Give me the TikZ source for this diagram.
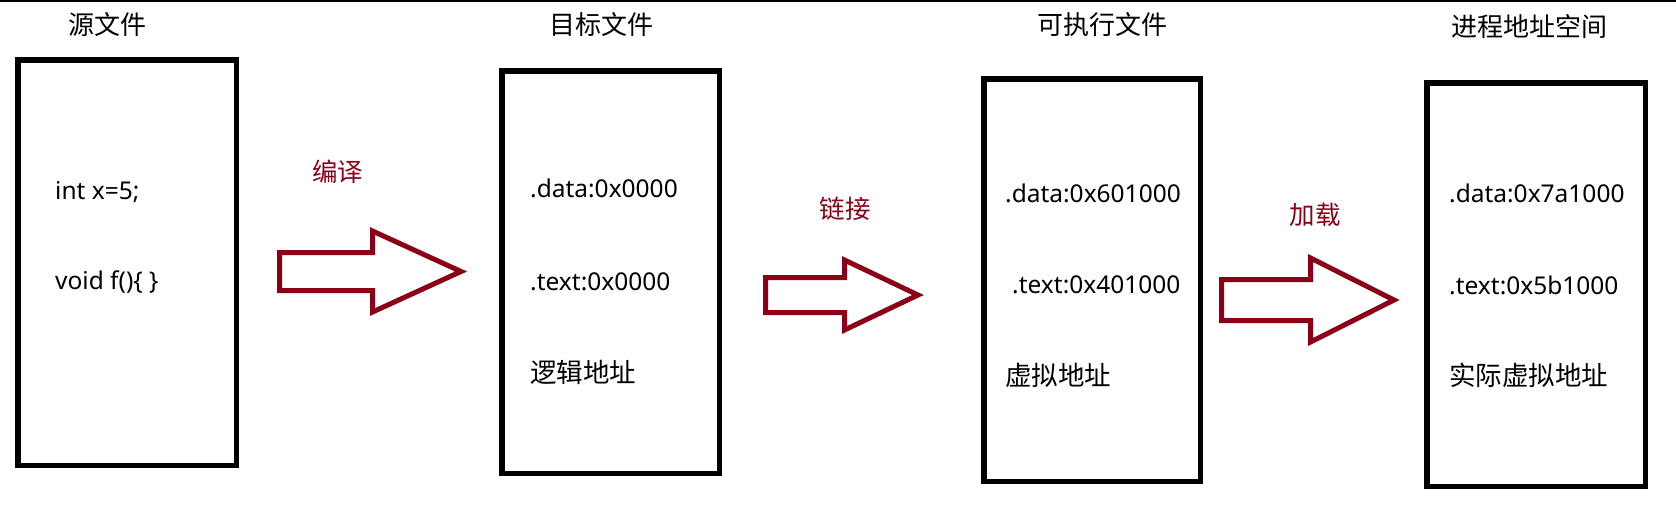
\documentclass[tikz,border=0pt]{standalone}
\usepackage{fontspec}
\setmainfont{Noto Sans}
\newfontfamily\cjk{Noto Sans CJK SC}
\definecolor{arrowred}{RGB}{139,0,22}
\begin{document}
\begin{tikzpicture}[x=1pt,y=-1pt,
  filebox/.style={draw=black,line width=5.5pt,inner sep=0pt},
  blockarrow/.style={draw=arrowred,line width=5pt,line join=miter},
  titletext/.style={font=\cjk\fontsize{26}{30}\selectfont,inner sep=0pt,anchor=center},
  steplabel/.style={font=\cjk\fontsize{25.5}{30}\selectfont,text=arrowred,inner sep=0pt,anchor=center},
  latintext/.style={font=\fontsize{24.5}{30}\selectfont,inner sep=0pt,anchor=west},
  cjktext/.style={font=\cjk\fontsize{26.5}{30}\selectfont,inner sep=0pt,anchor=west}]
\useasboundingbox (0,0) rectangle (1676,515);
\draw[line width=1.5pt] (0,0.75) -- (1676,0.75);

% boxes
\node[filebox,minimum width=218.5pt,minimum height=405.5pt] (src) at (127,262.5) {};
\node[filebox,minimum width=217.5pt,minimum height=402.5pt] (obj) at (610.5,272) {};
\node[filebox,minimum width=216.5pt,minimum height=402.5pt] (exe) at (1092,280) {};
\node[filebox,minimum width=218.5pt,minimum height=403.5pt] (proc) at (1536,284.5) {};

% titles
\node[titletext] (t1) at (107.5,25) {源文件};
\node[titletext] (t2) at (601.5,25) {目标文件};
\node[titletext] (t3) at (1102.5,25) {可执行文件};
\node[titletext] (t4) at (1529,27) {进程地址空间};

% box contents
\node[latintext] (s1) at (55,192) {int x=5;};
\node[latintext] (s2) at (55,282) {void f()\{ \}};

\node[latintext] (o1) at (530,188) {.data:0x0000};
\node[latintext] (o2) at (530,282) {.text:0x0000};
\node[cjktext] (o3) at (530,372) {逻辑地址};

\node[latintext] (e1) at (1005,193) {.data:0x601000};
\node[latintext] (e2) at (1012,285) {.text:0x401000};
\node[cjktext] (e3) at (1005,375) {虚拟地址};

\node[latintext] (p1) at (1449,193) {.data:0x7a1000};
\node[latintext] (p2) at (1449,285) {.text:0x5b1000};
\node[cjktext] (p3) at (1449,375) {实际虚拟地址};

% step labels
\node[steplabel] (l1) at (337.5,172) {编译};
\node[steplabel] (l2) at (845,209) {链接};
\node[steplabel] (l3) at (1315,215) {加载};

% block arrows
\draw[blockarrow] (279.5,252.5) -- (372.5,252.5) -- (372.5,231) -- (461,271.5)
  -- (372.5,312) -- (372.5,290.5) -- (279.5,290.5) -- cycle;
\draw[blockarrow] (765.5,277.5) -- (844.5,277.5) -- (844.5,260) -- (918,295)
  -- (844.5,330) -- (844.5,312.5) -- (765.5,312.5) -- cycle;
\draw[blockarrow] (1221.5,279.5) -- (1310.5,279.5) -- (1310.5,258) -- (1394,300)
  -- (1310.5,342) -- (1310.5,320.5) -- (1221.5,320.5) -- cycle;
\end{tikzpicture}
\end{document}
